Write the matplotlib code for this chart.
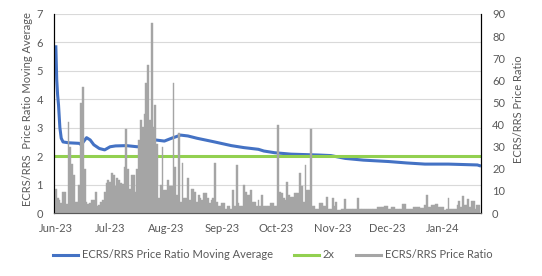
import pandas as pd
import matplotlib
matplotlib.use('Agg')
import matplotlib.pyplot as plt
import matplotlib.dates as mdates
from matplotlib.lines import Line2D

plt.rcParams['font.family'] = ['Lato', 'DejaVu Sans']

# daily ECRS/RRS price ratio (right axis), starting 2023-06-01
start_date = '2023-06-01'
price_ratio = [
    10.7, 6.6, 6, 4.4, 9.6, 9.6, 4, 41, 30, 22,
    17, 5, 5, 12.7, 49.6, 57, 20, 5, 4, 4.4,
    5.9, 6, 9.6, 3, 3.5, 5, 6, 9.6, 13.4, 15,
    14, 18, 17, 12, 15.7, 15, 13.4, 13, 21, 38,
    20, 11, 17, 17, 9.6, 20, 33, 42, 39, 45,
    59, 67, 42, 86, 39, 49, 31, 6.6, 12.7, 30,
    10.4, 10.4, 15, 12, 12, 59, 21, 8, 36, 5,
    22.5, 6.6, 6.6, 15.7, 6, 11, 11, 9.6, 5, 8,
    6.6, 6, 9, 9, 6.6, 4.4, 6, 6.6, 22.5, 5,
    3, 3, 4.4, 4.4, 2, 3, 3, 2, 10.4, 3,
    21.7, 4.4, 3, 3, 12.7, 9.6, 8, 8, 10.4, 5,
    5, 3, 6, 3, 8, 3, 3, 3, 3, 4.4,
    4.4, 3, 3, 40, 9.6, 9, 6.6, 6, 14, 8,
    7.4, 7.4, 9, 9, 9, 18, 12, 5, 21.7, 10.4,
    10.4, 38, 3, 3, 2, 2, 4.7, 4.7, 3, 3,
    7.4, 2, 2, 6.6, 3, 5, 1.4, 1.4, 1.7, 1.7,
    6.2, 1.7, 1.7, 1.7, 1.7, 1.7, 1.7, 6.6, 1.7, 1.7,
    1.7, 1.7, 2, 2, 1.7, 1.7, 1.7, 1.7, 2.6, 2.6,
    2.9, 2.9, 3.2, 3.2, 2, 2, 2.6, 2.6, 2, 1.8,
    1.8, 2, 3.9, 3.9, 1.8, 1.8, 1.8, 2, 2.6, 2.6,
    2.9, 2.9, 2.4, 2.4, 3.6, 8, 2.9, 2.9, 3.6, 3.6,
    3.9, 3.9, 2.6, 2.9, 2.9, 1.4, 2, 6.6, 2, 2,
    1.7, 1.7, 3.6, 5.6, 2.9, 7.8, 3.6, 3.6, 6.2, 2.9,
    5.6, 5.6, 2, 3.6, 3.6,
]

# moving average (left axis)
ma_dates = [
    '2023-06-01 00:00', '2023-06-01 12:00', '2023-06-02 00:00', '2023-06-02 12:00',
    '2023-06-03 06:00', '2023-06-04 00:00', '2023-06-05 00:00', '2023-06-08 00:00',
    '2023-06-14 00:00', '2023-06-15 00:00', '2023-06-18 00:00', '2023-06-20 00:00',
    '2023-06-22 00:00', '2023-06-25 00:00', '2023-06-28 00:00', '2023-07-01 00:00',
    '2023-07-04 00:00', '2023-07-10 00:00', '2023-07-16 00:00', '2023-07-21 00:00',
    '2023-07-23 00:00', '2023-07-26 00:00', '2023-07-31 00:00', '2023-08-04 00:00',
    '2023-08-09 00:00', '2023-08-13 00:00', '2023-08-18 00:00', '2023-08-27 00:00',
    '2023-09-06 00:00', '2023-09-13 00:00', '2023-09-21 00:00', '2023-09-24 00:00',
    '2023-09-30 00:00', '2023-10-09 00:00', '2023-10-24 00:00', '2023-10-31 00:00',
    '2023-11-08 00:00', '2023-11-18 00:00', '2023-12-02 00:00', '2023-12-12 00:00',
    '2023-12-22 00:00', '2024-01-04 00:00', '2024-01-20 00:00', '2024-01-22 00:00',
]
ma_values = [
    5.9, 4.7, 4.15, 3.8,
    3.0, 2.63, 2.5, 2.47,
    2.45, 2.4, 2.65, 2.57,
    2.4, 2.27, 2.22, 2.33,
    2.36, 2.37, 2.33, 2.36,
    2.5, 2.57, 2.53, 2.63,
    2.74, 2.71, 2.63, 2.51,
    2.37, 2.30, 2.24, 2.18,
    2.12, 2.07, 2.04, 2.02,
    1.92, 1.86, 1.81, 1.76,
    1.72, 1.72, 1.69, 1.65,
]
threshold = 2

label_ma = 'ECRS/RRS Price Ratio Moving Average'
label_2x = '2x'
label_ratio = 'ECRS/RRS Price Ratio'

blue = '#4472C4'
green = '#92D050'
gray = '#A5A5A5'
text_color = '#595959'

days = pd.date_range(start_date, periods=len(price_ratio), freq='D')
ma_x = pd.to_datetime(ma_dates, format='%Y-%m-%d %H:%M')

fig = plt.figure(figsize=(5.42, 2.76), dpi=100)
ax = fig.add_axes([54 / 542, 1 - 213 / 276, (481 - 54) / 542, (213 - 14) / 276])
ax2 = ax.twinx()

# lines on primary axis
ax.plot(ma_x, ma_values, color=blue, lw=2.2, solid_capstyle='butt')
ax.plot([days[0] - pd.Timedelta(days=1), days[-1] + pd.Timedelta(days=1)],
        [threshold, threshold], color=green, lw=2.2)

# bars on secondary axis (drawn on top, like excel)
ax2.bar(days, price_ratio, width=1.0, color=gray, edgecolor=gray, linewidth=0.3)

x_left = days[0] - pd.Timedelta(days=1)
x_right = days[-1] + pd.Timedelta(days=1)
ax.set_xlim(x_left, x_right)
ax.set_ylim(0, 7)
ax2.set_ylim(0, 90)
ax.set_yticks(range(0, 8))
ax2.set_yticks(range(0, 91, 10))

ax.xaxis.set_major_locator(mdates.MonthLocator())
ax.xaxis.set_major_formatter(mdates.DateFormatter('%b-%y'))

ax.grid(axis='y', color='#D9D9D9', lw=0.8)
ax.set_axisbelow(True)

for a in (ax, ax2):
    a.spines['top'].set_visible(False)
    a.spines['left'].set_color('black')
    a.spines['right'].set_color('black')
    a.spines['left'].set_linewidth(0.8)
    a.spines['right'].set_linewidth(0.8)
    a.spines['bottom'].set_color('#595959')
    a.spines['bottom'].set_linewidth(0.8)

ax.tick_params(axis='x', length=0, pad=7, labelsize=8, labelcolor=text_color)
ax.tick_params(axis='y', length=0, pad=8, labelsize=8, labelcolor=text_color)
ax2.tick_params(axis='y', length=0, pad=8, labelsize=8, labelcolor=text_color)

ax.set_ylabel('ECRS/RRS  Price Ratio Moving Average', fontsize=8, color=text_color)
ax2.set_ylabel('ECRS/RRS Price Ratio', fontsize=8, color=text_color)
ax.yaxis.set_label_coords(-0.049, 0.52)
ax2.yaxis.set_label_coords(1.075, 0.52)

handles = [
    Line2D([], [], color=blue, lw=2.2),
    Line2D([], [], color=green, lw=2.2),
    Line2D([], [], color=gray, lw=2.2),
]
leg = fig.legend(handles, [label_ma, label_2x, label_ratio], loc='center',
                 bbox_to_anchor=(0.503, 1 - 255 / 276), ncol=3, frameon=False,
                 fontsize=8, handlelength=2.3, handletextpad=0.3, columnspacing=1.9)
for t in leg.get_texts():
    t.set_color(text_color)

plt.savefig('out.png', dpi=100)
